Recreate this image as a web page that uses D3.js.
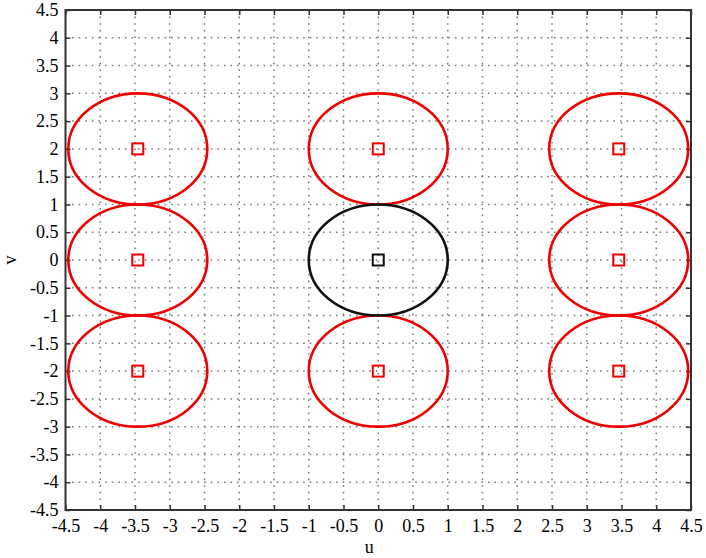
<!DOCTYPE html>
<meta charset="utf-8">
<script src="https://cdn.jsdelivr.net/npm/d3@7"></script>
<style>
  body { margin: 0; background: #fff; }
  svg text { font-family: "Liberation Serif", "Times New Roman", serif; }
</style>
<body>
<script>
// data
var ticks = [-4.5, -4, -3.5, -3, -2.5, -2, -1.5, -1, -0.5, 0, 0.5, 1, 1.5, 2, 2.5, 3, 3.5, 4, 4.5];
var redCentersU = [-3.46, -3.46, -3.46, 0, 0, 3.46, 3.46, 3.46];
var redCentersV = [2, 0, -2, 2, -2, 2, 0, -2];
var blackCenterU = [0];
var blackCenterV = [0];
var radius = 1;

var margin = {top: 10, right: 15, bottom: 48, left: 65.5},
    width = 706 - margin.left - margin.right,
    height = 558 - margin.top - margin.bottom;

var svg = d3.select("body").append("svg")
    .attr("width", 706)
    .attr("height", 558)
  .append("g")
    .attr("transform", "translate(" + margin.left + "," + margin.top + ")");

var x = d3.scaleLinear().domain([-4.5, 4.5]).range([0, width]);
var y = d3.scaleLinear().domain([-4.5, 4.5]).range([height, 0]);

// dotted grid
svg.append("g").selectAll("line.gx")
    .data(ticks.slice(1, -1))
    .enter().append("line")
    .attr("x1", d => x(d)).attr("x2", d => x(d))
    .attr("y1", 0).attr("y2", height)
    .attr("stroke", "#7a7a7a")
    .attr("stroke-width", 1.5)
    .attr("stroke-dasharray", "1.6,5");
svg.append("g").selectAll("line.gy")
    .data(ticks.slice(1, -1))
    .enter().append("line")
    .attr("y1", d => y(d)).attr("y2", d => y(d))
    .attr("x1", 0).attr("x2", width)
    .attr("stroke", "#7a7a7a")
    .attr("stroke-width", 1.5)
    .attr("stroke-dasharray", "1.6,5");

// axes
var fmt = d => String(d);
var xAxis = svg.append("g")
    .attr("transform", "translate(0," + height + ")")
    .call(d3.axisBottom(x).tickValues(ticks).tickSize(-5).tickPadding(9).tickFormat(fmt));
var xTop = svg.append("g")
    .call(d3.axisTop(x).tickValues(ticks).tickSize(-5).tickFormat(""));
var yAxis = svg.append("g")
    .call(d3.axisLeft(y).tickValues(ticks).tickSize(-5).tickPadding(7).tickFormat(fmt));
var yRight = svg.append("g")
    .attr("transform", "translate(" + width + ",0)")
    .call(d3.axisRight(y).tickValues(ticks).tickSize(-5).tickFormat(""));

[xAxis, xTop, yAxis, yRight].forEach(function (g) {
  g.attr("font-family", "Liberation Serif, serif");
  g.select(".domain").remove();
  g.selectAll(".tick line").attr("stroke", "#333").attr("stroke-width", 1.5);
  g.selectAll("text")
      .attr("font-size", 18)
      .attr("fill", "#000");
});

// box
svg.append("rect")
    .attr("x", 0).attr("y", 0)
    .attr("width", width).attr("height", height)
    .attr("fill", "none")
    .attr("stroke", "#333")
    .attr("stroke-width", 2);

// red circles
var red = d3.range(redCentersU.length);
svg.append("g").selectAll("ellipse")
    .data(red)
    .enter().append("ellipse")
    .attr("cx", i => x(redCentersU[i]))
    .attr("cy", i => y(redCentersV[i]))
    .attr("rx", x(radius) - x(0))
    .attr("ry", y(0) - y(radius))
    .attr("fill", "none")
    .attr("stroke", "#ee0000")
    .attr("stroke-width", 2.6);

// black circle
svg.append("g").selectAll("ellipse")
    .data(d3.range(blackCenterU.length))
    .enter().append("ellipse")
    .attr("cx", i => x(blackCenterU[i]))
    .attr("cy", i => y(blackCenterV[i]))
    .attr("rx", x(radius) - x(0))
    .attr("ry", y(0) - y(radius))
    .attr("fill", "none")
    .attr("stroke", "#111")
    .attr("stroke-width", 2.6);

// center markers
var s = 11;
svg.append("g").selectAll("rect")
    .data(red)
    .enter().append("rect")
    .attr("x", i => x(redCentersU[i]) - s / 2)
    .attr("y", i => y(redCentersV[i]) - s / 2)
    .attr("width", s).attr("height", s)
    .attr("fill", "none")
    .attr("stroke", "#ee0000")
    .attr("stroke-width", 2);
svg.append("g").selectAll("rect")
    .data(d3.range(blackCenterU.length))
    .enter().append("rect")
    .attr("x", i => x(blackCenterU[i]) - s / 2)
    .attr("y", i => y(blackCenterV[i]) - s / 2)
    .attr("width", s).attr("height", s)
    .attr("fill", "none")
    .attr("stroke", "#111")
    .attr("stroke-width", 2);

// axis labels
svg.append("text")
    .attr("x", x(0) - 9)
    .attr("y", height + 43)
    .attr("text-anchor", "middle")
    .attr("font-size", 18)
    .text("u");
svg.append("text")
    .attr("transform", "translate(" + (-50) + "," + y(0) + ") rotate(-90)")
    .attr("text-anchor", "middle")
    .attr("font-size", 18)
    .text("v");
</script>
</body>
